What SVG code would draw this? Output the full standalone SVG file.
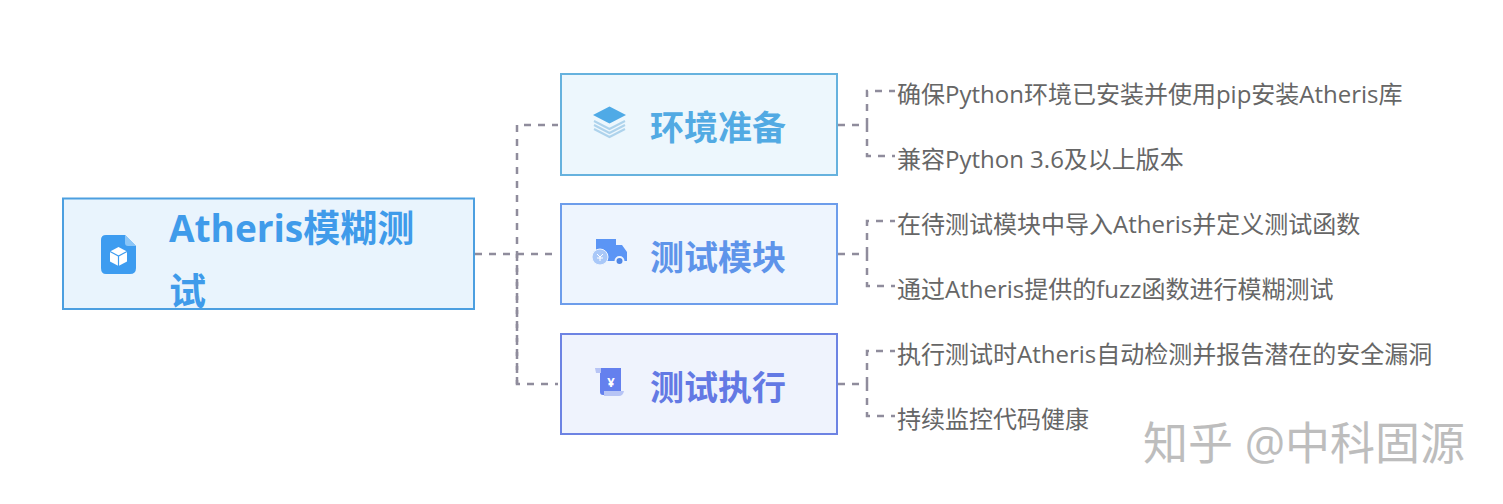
<svg xmlns="http://www.w3.org/2000/svg" width="1503" height="504" viewBox="0 0 1503 504">
<style>
text{font-family:"Open Sans","Noto Sans CJK SC","Noto Sans",sans-serif}
.leaf{font-size:24px;fill:#666666}
.t{font-size:34px;font-weight:700}
.r{font-size:37px;font-weight:700;fill:#3f9bea}
.c{fill:none;stroke:#8f8c9c;stroke-width:2.500;stroke-dasharray:7 7}
.box{stroke-width:2}
</style>
<rect width="1503" height="504" fill="#ffffff"/>
<g id="connectors">
<path class="c" d="M475 254H558"/>
<path class="c" d="M517 384V125H558"/>
<path class="c" d="M517 254V384H558"/>
<path class="c" d="M838 125H867"/>
<path class="c" d="M867 125V91H895"/>
<path class="c" d="M867 125V156H895"/>
<path class="c" d="M838 254H867"/>
<path class="c" d="M867 254V221H895"/>
<path class="c" d="M867 254V286H895"/>
<path class="c" d="M838 384H867"/>
<path class="c" d="M867 384V351H895"/>
<path class="c" d="M867 384V416H895"/>
</g>
<g id="root">
<rect class="box" x="63" y="198.500" width="411" height="110.500" fill="#e9f4fd" stroke="#4c9fe0"/>
<path d="M106 235H125L136 246V268Q136 274 130 274H106Q101 274 101 268V240Q101 235 106 235Z" fill="#3d9cf0"/>
<path d="M125 235L136 246H128Q125 246 125 243Z" fill="#8cc6f7"/>
<path d="M118.500 247L127 251.500V261.500L118.500 266L110 261.500V251.500Z" fill="#ffffff"/>
<path d="M110 251.500L118.500 256L127 251.500M118.500 256V266" fill="none" stroke="#3d9cf0" stroke-width="1.200"/>
<text x="169" y="242" class="r">Atheris模糊测</text>
<text x="169" y="305" class="r">试</text>
</g>
<g id="node-env">
<rect class="box" x="561" y="74" width="276" height="101" fill="#edf7fd" stroke="#66b2de"/>
<path d="M609.500 106.500L626 115L609.500 123.500L593 115Z" fill="#4faae6"/>
<path d="M594 121L609.500 129L625 121M594 125L609.500 133L625 125M594 129L609.500 137L625 129" fill="none" stroke="#aed3ec" stroke-width="2"/>
<text x="650" y="140" class="t" fill="#52aae3">环境准备</text>
</g>
<g id="node-module">
<rect class="box" x="561" y="204" width="276" height="100" fill="#eef5fe" stroke="#6d9deb"/>
<path d="M596 239H616V245H622L627 252V261H596Z" fill="#5b95f5"/>
<circle cx="619.500" cy="261" r="4" fill="#4f86e6" stroke="#eef5fe" stroke-width="2"/>
<circle cx="600" cy="257" r="8" fill="#a9c8f8" stroke="#eef5fe" stroke-width="1"/>
<path d="M597 254L600 257L603 254M600 257V261M597 258H603" fill="none" stroke="#ffffff" stroke-width="1"/>
<text x="650" y="270" class="t" fill="#5e94ea">测试模块</text>
</g>
<g id="node-run">
<rect class="box" x="561" y="334" width="276" height="100" fill="#eff3fd" stroke="#6d83e3"/>
<path d="M595 368H621V392Q621 395 618 395H603Q600 395 600 392V373Q600 369 595 368Z" fill="#6480ee"/>
<path d="M604 391H624Q623 396 619 396H604Z" fill="#b7c4f5"/>
<path d="M595 368H601V373H596Z" fill="#b7c4f5"/>
<text x="611" y="387" font-size="13" font-weight="700" fill="#ffffff" text-anchor="middle">¥</text>
<text x="650" y="400" class="t" fill="#6379e4">测试执行</text>
</g>
<g id="leaf-1"><text x="897" y="103" class="leaf">确保Python环境已安装并使用pip安装Atheris库</text></g>
<g id="leaf-2"><text x="897" y="168" class="leaf">兼容Python 3.6及以上版本</text></g>
<g id="leaf-3"><text x="897" y="233" class="leaf">在待测试模块中导入Atheris并定义测试函数</text></g>
<g id="leaf-4"><text x="897" y="298" class="leaf">通过Atheris提供的fuzz函数进行模糊测试</text></g>
<g id="leaf-5"><text x="897" y="363" class="leaf">执行测试时Atheris自动检测并报告潜在的安全漏洞</text></g>
<g id="leaf-6"><text x="897" y="428" class="leaf">持续监控代码健康</text></g>
<text x="1143" y="460" font-size="45" fill="#bdbdbd">知乎 @中科固源</text>
</svg>
